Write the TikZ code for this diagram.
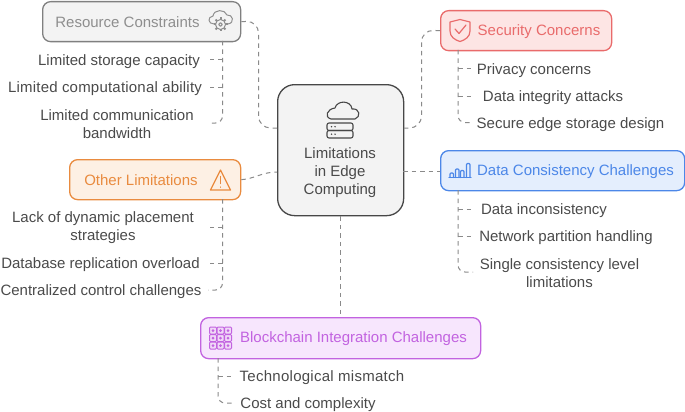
\documentclass[tikz,border=0pt]{standalone}
\usepackage{fontspec}
\setmainfont{Liberation Sans}
\definecolor{txt}{HTML}{4A4A4A}
\definecolor{dash}{HTML}{8A8A8A}
\definecolor{grayB}{HTML}{808080}\definecolor{grayF}{HTML}{F3F3F3}\definecolor{grayT}{HTML}{8E8E8E}
\definecolor{redB}{HTML}{E96B6B}\definecolor{redF}{HTML}{FDE5E4}
\definecolor{oraB}{HTML}{E98B3F}\definecolor{oraF}{HTML}{FDF0E4}
\definecolor{bluB}{HTML}{4C87E8}\definecolor{bluF}{HTML}{E4EEFD}
\definecolor{purB}{HTML}{C263E0}\definecolor{purF}{HTML}{F7E6FD}
\newcommand{\fs}{\fontsize{15}{18}\selectfont}
\tikzset{
  x=1pt,y=-1pt,
  head/.style={draw=#1B,fill=#1F,line width=1.3pt,rounded corners=8pt,inner sep=0pt,anchor=north west},
  leaf/.style={text=txt,font=\fs,align=center,inner sep=0pt},
  conn/.style={draw=dash,line width=1pt,dash pattern=on 4.5pt off 4pt},
  ic/.style={line width=1pt,line join=round,line cap=round},
}
\begin{document}
\begin{tikzpicture}
\useasboundingbox (0,0) rectangle (685,412);
% connectors
\coordinate (cA) at (277,128); \coordinate (cB) at (403,128);
\coordinate (cC) at (277,172); \coordinate (cD) at (403,171);
\node[head=gray,minimum width=198pt,minimum height=40pt] (res) at (42,1) {};
\node[head=red,minimum width=171pt,minimum height=40pt] (sec) at (440,10) {};
\node[head=ora,minimum width=171pt,minimum height=40pt] (oth) at (69,159) {};
\node[head=blu,minimum width=244pt,minimum height=40pt] (dat) at (440,150) {};
\node[head=pur,minimum width=280pt,minimum height=41pt] (blo) at (200,317) {};
\node[draw=black!72,fill=grayF,line width=1.3pt,rounded corners=17pt,anchor=north west,minimum width=126pt,minimum height=131pt,inner sep=0pt] (cen) at (277,84) {};
% centre links
\draw[conn,rounded corners=12pt] (res.east) -- (258.5,21) -- (258.5,128) -- (cA);
\draw[conn,rounded corners=12pt] (sec.west) -- (421.5,30) -- (421.5,128) -- (cB);
\draw[conn] (oth.east) .. controls (254,179) and (262,172) .. (cC);
\draw[conn] (cD) -- (dat.west |- cD);
\draw[conn] (cen.south) -- (blo.north -| cen.south);
% text
\node[text=grayT,font=\fs,inner sep=0pt] (t1) at (127.5,22.5) {Resource Constraints};
\node[text=redB,font=\fs,inner sep=0pt] (t2) at (539,32) {Security Concerns};
\node[text=oraB,font=\fs,inner sep=0pt] (t3) at (141,180.5) {Other Limitations};
\node[text=bluB,font=\fs,inner sep=0pt] (t4) at (575.5,172) {Data Consistency Challenges};
\node[text=purB,font=\fs,inner sep=0pt] (t5) at (353.5,339) {Blockchain Integration Challenges};
\node[leaf] (ct) at (340,173) {Limitations\\in Edge\\Computing};
% leaves
\node[leaf] (a1) at (119,61.5) {Limited storage capacity};
\node[leaf] (a2) at (105,88.5) {\addfontfeature{LetterSpace=1.4}Limited computational ability};
\node[leaf] (a3) at (117,124) {Limited communication\\bandwidth};
\node[leaf] (b1) at (534,70.5) {Privacy concerns};
\node[leaf] (b2) at (553,97.5) {Data integrity attacks};
\node[leaf] (b3) at (570.5,124.5) {Secure edge storage design};
\node[leaf] (c1) at (103,228) {Lack of dynamic placement\\strategies};
\node[leaf] (c2) at (100.5,264.5) {Database replication overload};
\node[leaf] (c3) at (101,291.5) {Centralized control challenges};
\node[leaf] (d1) at (544,210.5) {Data inconsistency};
\node[leaf] (d2) at (566,237.5) {Network partition handling};
\node[leaf] (d3) at (559.5,273.5) {Single consistency level\\limitations};
\node[leaf] (e1) at (322,377.5) {\addfontfeature{LetterSpace=1.8}Technological mismatch};
\node[leaf] (e2) at (308,404.5) {Cost and complexity};
% stems
\coordinate (sa) at (222.5,41); \coordinate (sb) at (458,50); \coordinate (sc) at (222.5,199); \coordinate (sd) at (458,190); \coordinate (se) at (218,358);
\draw[conn,rounded corners=7pt] (sa) -- (222.5,123) -- (208,123);
\draw[conn] (222.5,60) -- (209,60);
\draw[conn] (222.5,87) -- (209,87);
\draw[conn,rounded corners=7pt] (sb) -- (458,122.5) -- (473,122.5);
\draw[conn] (458,69) -- (472,69);
\draw[conn] (458,96) -- (472,96);
\draw[conn,rounded corners=7pt] (sc) -- (222.5,290) -- (208,290);
\draw[conn] (222.5,227) -- (209,227);
\draw[conn] (222.5,263) -- (209,263);
\draw[conn,rounded corners=7pt] (sd) -- (458,272) -- (473,272);
\draw[conn] (458,209) -- (472,209);
\draw[conn] (458,236) -- (472,236);
\draw[conn,rounded corners=7pt] (se) -- (218,403) -- (233,403);
\draw[conn] (218,376) -- (232,376);
% icon: cloud gear
\draw[ic,draw=grayT] (214,24) .. controls (208,24) and (207,17) .. (213,16) .. controls (214,9) and (225,9) .. (227,15) .. controls (233,14) and (235,23) .. (228,24);
\foreach \a in {0,45,...,315}
  \draw[draw=grayT,line width=2pt] (220.5,24.5) ++(\a:4.5pt) -- ++(\a:2.5pt);
\draw[ic,draw=grayT,fill=grayF] (220.5,24.5) circle (5pt);
\draw[ic,draw=grayT] (220.5,24.5) circle (1.8pt);
% icon: shield
\draw[ic,draw=redB,line width=1.2pt] (450,22) -- (460,19.5) -- (470,22) -- (470,31) .. controls (470,37) and (465,40) .. (460,41.5) .. controls (455,40) and (450,37) .. (450,31) -- cycle;
\draw[ic,draw=redB,line width=1.2pt] (455,29) -- (459,33.5) -- (466,25);
% icon: warning
\draw[ic,draw=oraB,line width=1.3pt] (220.5,170) -- (230.5,190) -- (210.5,190) -- cycle;
\draw[ic,draw=oraB,line width=1.3pt] (220.5,176.5) -- (220.5,183.5) (220.5,187) -- (220.5,187.2);
% icon: bars
\draw[ic,draw=bluB,line width=1.2pt] (449,177.5) -- (471,177.5);
\foreach \xa/\ya in {450/173,455.5/169,460.5/170.5,466.5/163.5}
  \draw[ic,draw=bluB,line width=1.1pt,rounded corners=1pt] (\xa,177.5) -- (\xa,\ya) -- (\xa+3.5,\ya) -- (\xa+3.5,177.5);
% icon: blockchain
\foreach \xa in {213,220.5,228} \foreach \ya in {330.5,338,345.5}{
  \draw[ic,draw=purB,fill=purB!25,rounded corners=1pt] (\xa-3.5,\ya-3.5) rectangle (\xa+3.5,\ya+3.5);
  \fill[purB] (\xa,\ya) circle (1.5pt);}
% icon: centre cloud+server
\draw[ic,draw=black!72,line width=1.1pt] (331,119) -- (355,119) .. controls (361,117) and (360,108) .. (352,109) .. controls (351,100) and (337,100) .. (335,108) .. controls (327,109) and (324,117) .. (331,119) -- cycle;
\draw[ic,draw=black!72,line width=1.1pt,rounded corners=2pt] (327,123) rectangle (353,130.5);
\draw[ic,draw=black!72,line width=1.1pt,rounded corners=2pt] (327,130.5) rectangle (353,138);
\fill[black!72] (331.5,126.7) circle (0.8pt) (335,126.7) circle (0.8pt) (331.5,134.2) circle (0.8pt) (335,134.2) circle (0.8pt);
\end{tikzpicture}
\end{document}
